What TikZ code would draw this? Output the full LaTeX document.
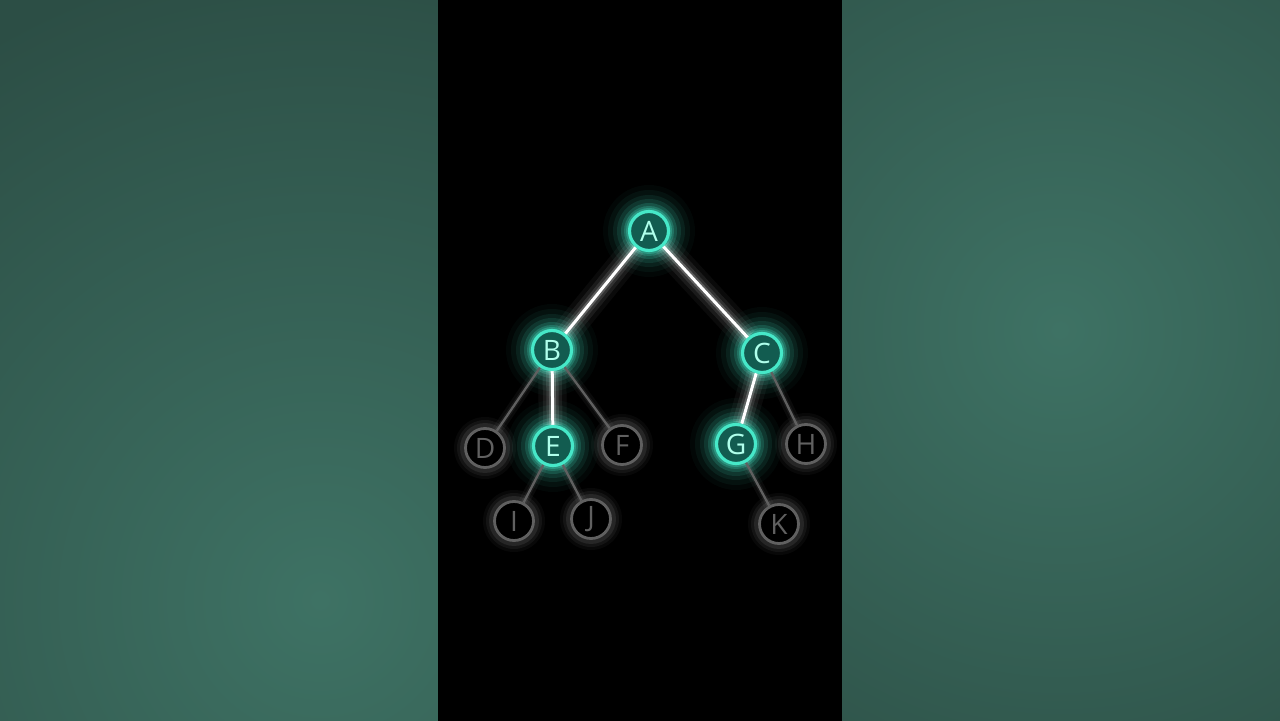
\documentclass[tikz,border=0pt]{standalone}
\usepackage{fontspec}
\setmainfont{Open Sans}
\usetikzlibrary{positioning, backgrounds}
\definecolor{treeteal}{RGB}{70, 232, 200}
\definecolor{treetealfill}{RGB}{18, 92, 80}
\definecolor{treetext}{RGB}{175, 255, 235}
\definecolor{treegray}{RGB}{96, 96, 96}
\definecolor{treegreendark}{RGB}{44, 78, 69}
\definecolor{treegreenlight}{RGB}{62, 114, 100}

\begin{document}
\begin{tikzpicture}[
    x=0.02cm, y=0.02cm,
    litnode/.style={
        circle,
        draw=treeteal,
        fill=treetealfill,
        line width=1.8pt,
        minimum size=0.78cm,
        inner sep=0pt,
        text=treetext,
        font=\fontsize{16}{16}\selectfont
    },
    dimnode/.style={
        circle,
        draw=treegray,
        fill=black,
        line width=1.6pt,
        minimum size=0.78cm,
        inner sep=0pt,
        text=treegray,
        font=\fontsize{16}{16}\selectfont
    },
    litedge/.style={
        white,
        line width=1.7pt
    },
    dimedge/.style={
        treegray,
        line width=1.3pt
    }
]

\useasboundingbox (0,0) rectangle (1280,720);

% Nodes
\node[litnode] (A) at (649,489) {A};
\node[litnode] (B) at (552,370) {B};
\node[litnode] (C) at (762,367) {C};
\node[dimnode] (D) at (485,272) {D};
\node[litnode] (E) at (553,274) {E};
\node[dimnode] (F) at (622,275) {F};
\node[litnode] (G) at (736,276) {G};
\node[dimnode] (H) at (806,276) {H};
\node[dimnode] (I) at (514,199) {I};
\node[dimnode] (J) at (591,201) {J};
\node[dimnode] (K) at (779,196) {K};

\begin{scope}[on background layer]
% Side panels
\fill[treegreendark] (-5,-5) rectangle (1285,725);
\begin{scope}
    \clip (-5,-5) rectangle (438,725);
    \shade[inner color=treegreenlight, outer color=treegreendark] (320,120) circle (650);
\end{scope}
\begin{scope}
    \clip (842,-5) rectangle (1285,725);
    \shade[inner color=treegreenlight, outer color=treegreendark] (1060,390) circle (580);
\end{scope}
\fill[black] (438,-5) rectangle (842,725);

% Glows
\foreach \n in {A, B, C, E, G} {
    \foreach \r/\o in {46/0.03, 41/0.05, 36/0.08, 32/0.11, 28/0.16, 25/0.22, 23/0.3} {
        \fill[treeteal, opacity=\o] (\n.center) circle (\r);
    }
}
\foreach \n in {D, F, H, I, J, K} {
    \foreach \r/\o in {31/0.03, 28/0.05, 25/0.08} {
        \fill[white, opacity=\o] (\n.center) circle (\r);
    }
}

% Edges
\foreach \a/\b in {A/B, A/C, B/E, C/G} {
    \foreach \w/\o in {16pt/0.04, 11pt/0.07, 7pt/0.1, 4pt/0.2} {
        \draw[white, opacity=\o, line width=\w] (\a) -- (\b);
    }
    \draw[litedge] (\a) -- (\b);
}
\foreach \a/\b in {B/D, B/F, C/H, E/I, E/J, G/K} {
    \draw[white, opacity=0.04, line width=6pt] (\a) -- (\b);
    \draw[white, opacity=0.06, line width=3pt] (\a) -- (\b);
    \draw[dimedge] (\a) -- (\b);
}
\end{scope}

\end{tikzpicture}
\end{document}
